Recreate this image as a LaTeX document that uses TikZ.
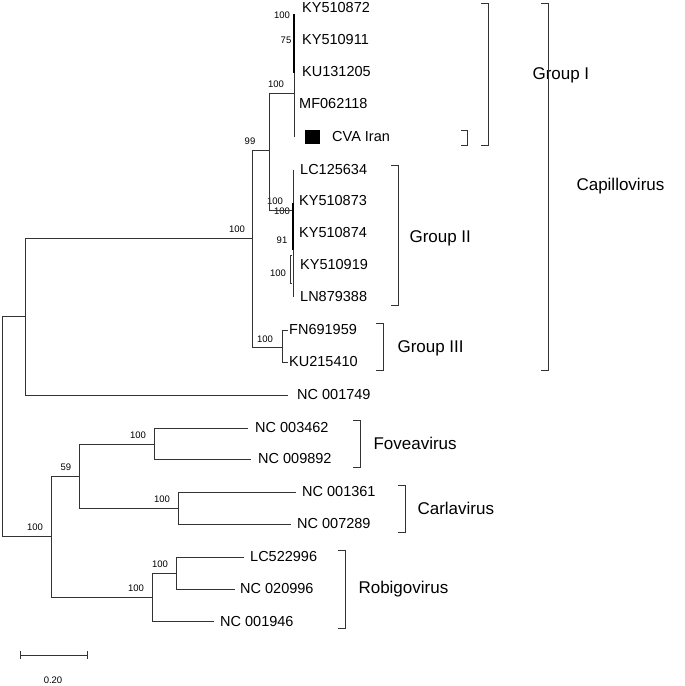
\documentclass[tikz,border=0pt]{standalone}
\usepackage{fontspec}
\setmainfont{Liberation Sans}
\begin{document}
\begin{tikzpicture}[x=1pt,y=-1pt,
 br/.style={line width=0.8pt,draw=black!80},
 leaf/.style={anchor=west,font=\fontsize{14.5}{15}\selectfont,inner sep=1pt},
 bs/.style={font=\fontsize{9.5}{10}\selectfont,inner sep=1pt},
 grp/.style={anchor=west,font=\fontsize{17}{18}\selectfont},
 brk/.style={line width=0.8pt,draw=black!80}]
\useasboundingbox (0,0) rectangle (685,686);
% leaves Group I
\node[leaf] (l1) at (301,8) {KY510872};
\node[leaf] (l2) at (301,40) {KY510911};
\node[leaf] (l3) at (301,72) {KU131205};
\node[leaf] (l4) at (298,104) {MF062118};
\node[leaf] (l5) at (331,137) {CVA Iran};
\fill (305,130) rectangle (320,144);
\draw[br] (294,14) -- (294,137);
\draw[line width=2pt] (294,14) -- (294,73);
\node[bs] at (282,15) {100};
\node[bs] at (286,40) {75};
% Group II
\node[leaf] (m1) at (299,170) {LC125634};
\node[leaf] (m2) at (298,201) {KY510873};
\node[leaf] (m3) at (298,233) {KY510874};
\node[leaf] (m4) at (299,265) {KY510919};
\node[leaf] (m5) at (299,297) {LN879388};
\draw[br] (293,170) -- (293,297);
\draw[line width=2pt] (293,203) -- (293,250);
\draw[br] (292,255) -- (290,255) -- (290,283) -- (292,283);
\node[bs] at (275,201) {100};
\node[bs] at (282,211) {100};
\node[bs] at (282,240) {91};
\node[bs] at (278,273) {100};
% Group III
\node[leaf] (n1) at (288,330) {FN691959};
\node[leaf] (n2) at (288,362) {KU215410};
\draw[br] (288,330) -- (282,330) -- (282,362) -- (288,362);
\node[bs] at (265,339) {100};
% internal capillo
\draw[br] (294,93) -- (269,93) -- (269,210) -- (292,210);
\node[bs] at (276,84) {100};
\draw[br] (269,150) -- (252,150) -- (252,347) -- (282,347);
\node[bs] at (250,141) {99};
\draw[br] (252,238) -- (25,238) -- (25,395) -- (288,395);
\node[bs] at (237,229) {100};
\node[leaf] (o1) at (296,395) {NC 001749};
% root
\draw[br] (25,316) -- (2,316) -- (2,536) -- (51,536);
\node[bs] at (35,527) {100};
\draw[br] (51,476) -- (51,597);
\draw[br] (51,476) -- (79,476) -- (79,444) -- (154,444);
\draw[br] (79,476) -- (79,508) -- (178,508);
\node[bs] at (66,467) {59};
% Fovea
\draw[br] (248,428) -- (154,428) -- (154,459) -- (251,459);
\node[bs] at (138,435) {100};
\node[leaf] (f1) at (254,428) {NC 003462};
\node[leaf] (f2) at (257,459) {NC 009892};
% Carla
\draw[br] (296,492) -- (178,492) -- (178,524) -- (291,524);
\node[bs] at (162,499) {100};
\node[leaf] (c1) at (301,492) {NC 001361};
\node[leaf] (c2) at (296,524) {NC 007289};
% Robigo
\draw[br] (51,597) -- (152,597);
\draw[br] (176,573) -- (152,573) -- (152,621) -- (214,621);
\draw[br] (244,557) -- (176,557) -- (176,589) -- (235,589);
\node[bs] at (136,588) {100};
\node[bs] at (160,564) {100};
\node[leaf] (r1) at (249,557) {LC522996};
\node[leaf] (r2) at (239,589) {NC 020996};
\node[leaf] (r3) at (219,621) {NC 001946};
% brackets
\draw[brk] (481,3) -- (488,3) -- (488,145) -- (481,145);
\draw[brk] (461,130) -- (467,130) -- (467,145) -- (461,145);
\node[grp] at (529,75) {Group I};
\draw[brk] (391,165) -- (398,165) -- (398,305) -- (391,305);
\node[grp] at (406,238) {Group II};
\draw[brk] (376,323) -- (383,323) -- (383,370) -- (376,370);
\node[grp] at (394,348) {Group III};
\draw[brk] (541,3) -- (548,3) -- (548,370) -- (541,370);
\node[grp] at (573,186) {Capillovirus};
\draw[brk] (353,420) -- (360,420) -- (360,467) -- (353,467);
\node[grp] at (370,443) {Foveavirus};
\draw[brk] (398,485) -- (405,485) -- (405,532) -- (398,532);
\node[grp] at (414,508) {Carlavirus};
\draw[brk] (338,550) -- (345,550) -- (345,628) -- (338,628);
\node[grp] at (355,589) {Robigovirus};
% scale
\draw[br] (20,655) -- (87,655);
\draw[br] (20,651) -- (20,659);
\draw[br] (87,651) -- (87,659);
\node[bs] (sc) at (53,680) {0.20};
\end{tikzpicture}
\end{document}
